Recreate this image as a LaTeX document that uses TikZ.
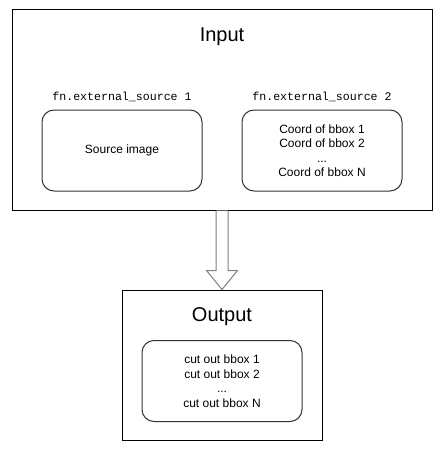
\documentclass[tikz,border=0pt]{standalone}
\usepackage{fontspec}
\setmainfont{Liberation Sans}
\setmonofont{Liberation Mono}
\usetikzlibrary{calc}
\tikzset{
  frame/.style={draw=black, line width=1pt, inner sep=0pt},
  roundbox/.style={draw=black!80, line width=1pt, rounded corners=12pt, inner sep=0pt,
    minimum width=160pt, minimum height=81pt, align=center, font=\fontsize{12}{14.5}\selectfont},
  title/.style={font=\fontsize{20}{24}\selectfont},
  fnlabel/.style={font=\ttfamily\fontsize{11.6}{14}\selectfont}
}
\begin{document}
\begin{tikzpicture}[x=1pt,y=-1pt]
  \useasboundingbox (0,0) rectangle (447,460);
  % input block
  \node[frame, minimum width=420pt, minimum height=200pt] (input) at (222,110) {};
  \node[title] (intitle) at (222,37) {Input};
  \node[fnlabel] (fnone) at (122,97) {fn.external\_source 1};
  \node[fnlabel] (fntwo) at (322,97) {fn.external\_source 2};
  \node[roundbox] (srcimg) at (122,150.5) {Source image};
  \node[roundbox] (coords) at (322,150.5) {Coord of bbox 1\\Coord of bbox 2\\...\\Coord of bbox N};
  % output block
  \node[frame, minimum width=200pt, minimum height=150pt] (output) at (222,365) {};
  \node[title] (outtitle) at (222,317) {Output};
  \node[roundbox] (cutouts) at (222,381) {cut out bbox 1\\cut out bbox 2\\...\\cut out bbox N};
  % block arrow
  \draw[draw=gray, fill=white, line width=1pt, line join=miter]
    ($(input.south)+(-6,0)$) -- ($(output.north)+(-6,-19)$) -- ($(output.north)+(-15.5,-19)$)
    -- (output.north) -- ($(output.north)+(15.5,-19)$) -- ($(output.north)+(6,-19)$)
    -- ($(input.south)+(6,0)$);
\end{tikzpicture}
\end{document}
